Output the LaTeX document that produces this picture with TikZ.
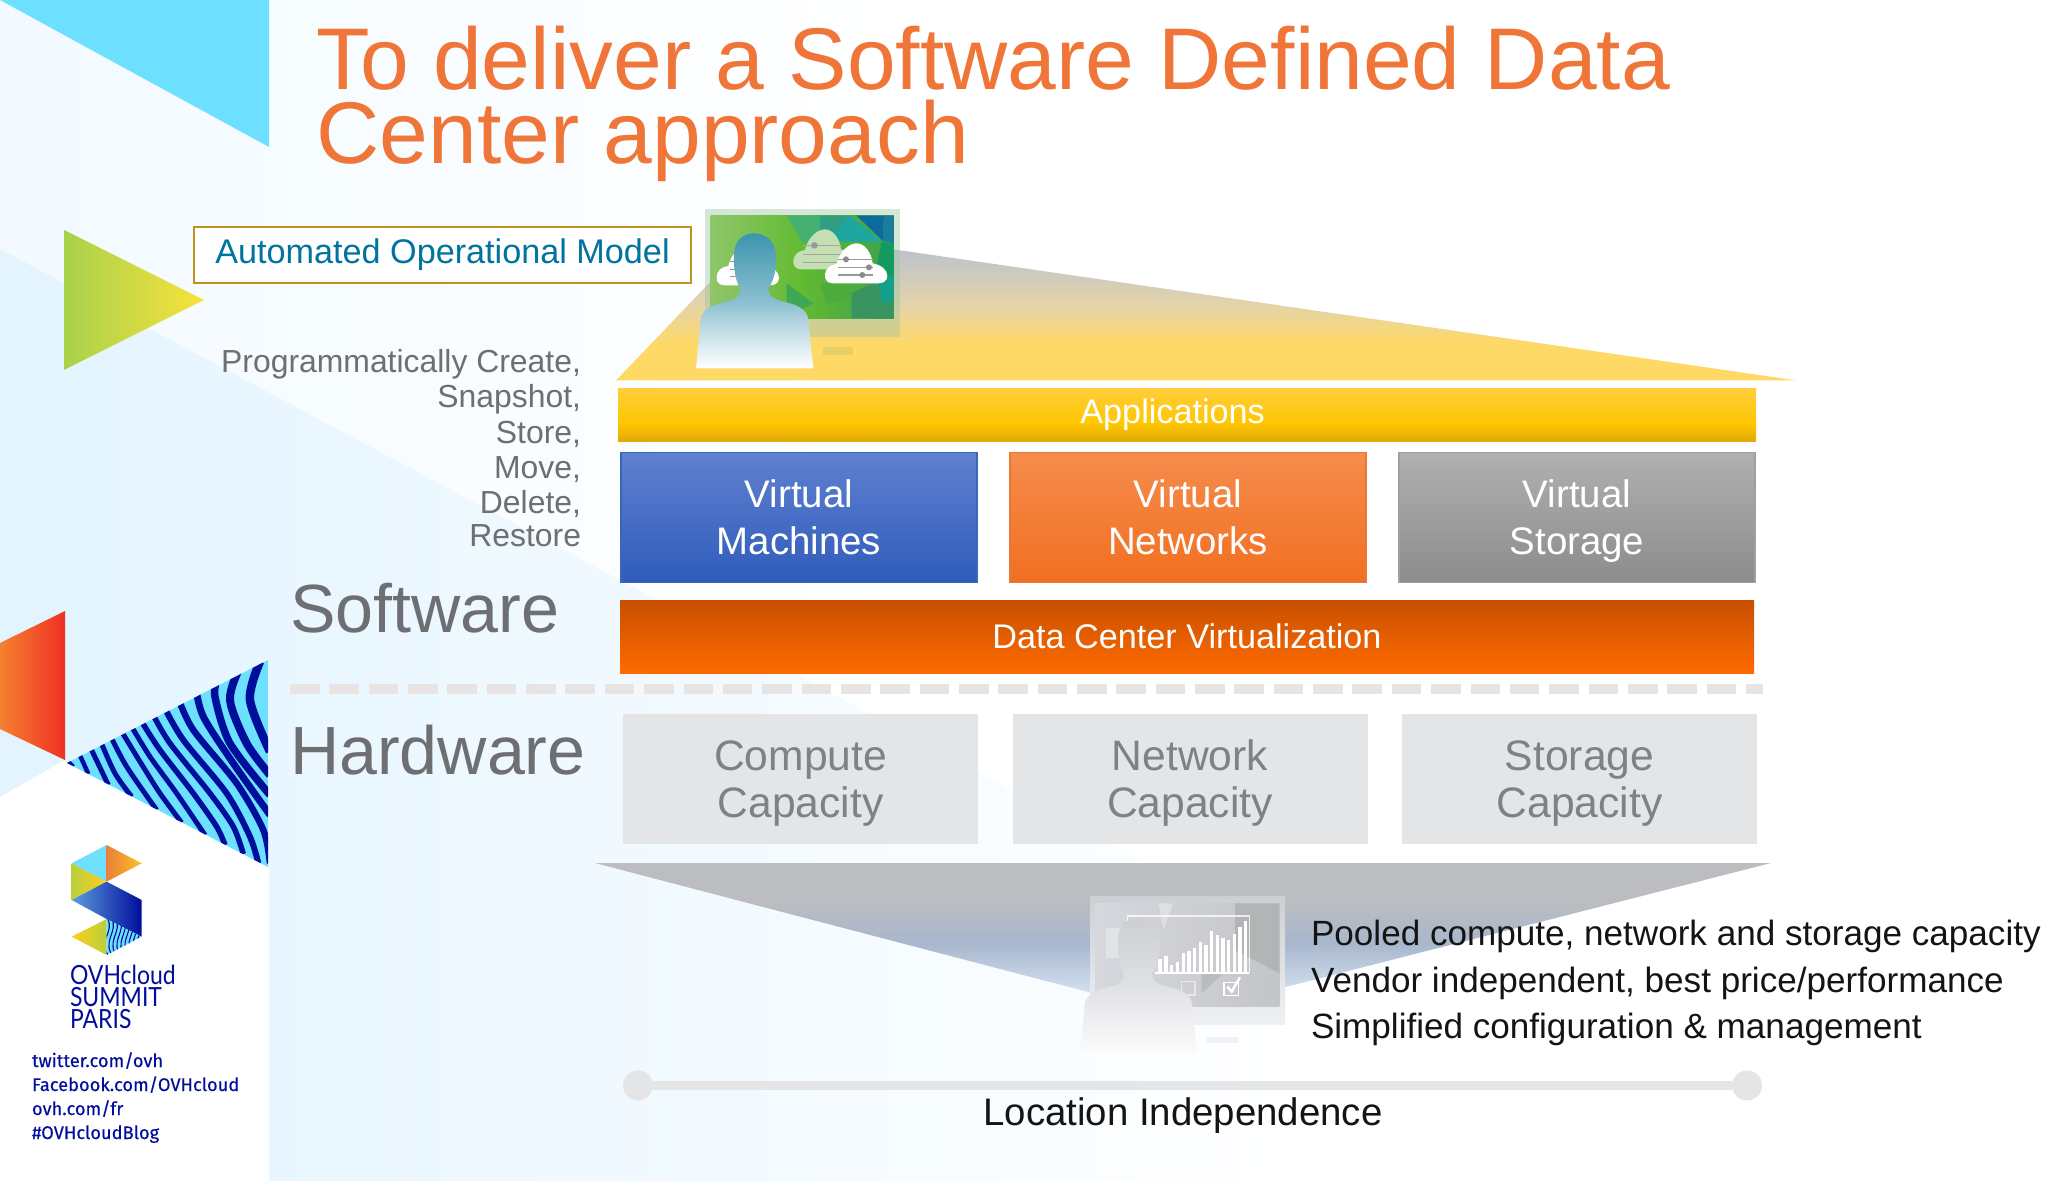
\documentclass[tikz,border=0pt]{standalone}
\usepackage{fontspec}
\setmainfont{Liberation Sans}
\newfontfamily\ovhfont{Fira Sans}[FakeBold=0.25]
\newfontfamily\ovhthin{Lato}
\usetikzlibrary{shapes.geometric}
\newcommand{\dc}[2]{\definecolor{#1}{HTML}{#2}}
\dc{cyanT}{6EE0FF}\dc{navy}{000E9C}\dc{titleC}{EF7638}\dc{grayT}{6D6F73}\dc{boxT}{808184}\dc{hwFill}{E4E5E7}\dc{paleBlue}{E3F4FF}
\dc{divC}{E8E4E4}\dc{aomB}{C09220}\dc{aomT}{00739F}
\dc{tgrA}{A8D14B}\dc{tgrB}{F8E23C}\dc{redA}{F58030}\dc{redB}{EE3124}
\dc{lgOA}{E9803A}\dc{lgOB}{FDC02A}\dc{lgGA}{B8CF3C}\dc{lgYB}{FFCE1E}\dc{lgBA}{5C9CDC}
\dc{vmT}{6080D0}\dc{vmB}{2F5CBB}\dc{vmE}{3A66B8}\dc{vnT}{F58C4C}\dc{vnB}{F26F21}\dc{vnE}{E87838}\dc{vsT}{B0B0B0}\dc{vsB}{8C8C8C}\dc{vsE}{A0A0A0}
\dc{dcT}{C85000}\dc{dcB}{FF6A00}
\dc{mFr}{9FC6A0}\dc{mSt}{B2BE6E}\dc{sA}{90C66A}\dc{sB}{62BA32}\dc{sC}{3CA050}
\dc{m1}{44B072}\dc{m2}{2F9E82}\dc{m3}{1EA6A0}\dc{m4}{0B6B9E}\dc{m5}{1A7D9C}\dc{m6}{149A60}\dc{m7}{3A9460}\dc{m8}{12A08C}\dc{m9}{3FA854}\dc{m10}{4BAC3C}\dc{cl1}{C4E0B2}
\dc{g1}{CDCFD4}\dc{g2}{F0F1F3}\dc{g3}{D6D8DE}\dc{g4}{C4C5C8}\dc{g5}{B3B4B6}\dc{g6}{BABBBE}\dc{g7}{E2E3E6}\dc{g8}{DEDFE2}
% shading colours
\dc{yA}{FFD966}\dc{yB}{E4D4A8}\dc{yC}{BEC2CE}
\dc{gA}{FFFFFF}\dc{gB}{CFDDED}\dc{gC}{A8B7CD}\dc{gD}{BCBDC0}
\dc{apA}{E0A808}\dc{apB}{FFC600}\dc{apC}{FFCD3C}
\dc{pA}{FFFFFF}\dc{pB}{CFE5EA}\dc{pC}{8ABFCF}\dc{pD}{3D95AE}
\dc{qA}{FCFCFD}\dc{qB}{E0E1E3}\dc{qC}{CDCED1}
\pgfdeclareverticalshading{yellowtri}{100bp}{color(0bp)=(yA); color(36.9bp)=(yA); color(50bp)=(yB); color(68.4bp)=(yC); color(100bp)=(yC)}
\pgfdeclareverticalshading{graytri}{100bp}{color(0bp)=(gA); color(25bp)=(gA); color(33.8bp)=(gB); color(48.4bp)=(gC); color(63bp)=(gD); color(100bp)=(gD)}
\pgfdeclareverticalshading{apps}{100bp}{color(0bp)=(apA); color(25bp)=(apA); color(42bp)=(apB); color(75bp)=(apC); color(100bp)=(apC)}
\pgfdeclareverticalshading{persC}{100bp}{color(0bp)=(pA); color(25bp)=(pA); color(36bp)=(pB); color(50bp)=(pC); color(75bp)=(pD); color(100bp)=(pD)}
\pgfdeclareverticalshading{persG}{100bp}{color(0bp)=(qA); color(25bp)=(qA); color(50bp)=(qB); color(75bp)=(qC); color(100bp)=(qC)}
\newcommand{\personpath}{(48,505) -- (62,360) .. controls (65,330) and (90,318) .. (120,310) .. controls (160,300) and (180,295) .. (180,265) .. controls (165,240) and (160,200) .. (162,160) .. controls (165,120) and (190,100) .. (222,100) .. controls (260,100) and (285,125) .. (288,165) .. controls (290,210) and (280,245) .. (265,265) .. controls (265,295) and (290,300) .. (330,310) .. controls (365,320) and (382,335) .. (385,360) -- (400,505) -- cycle}
\newcommand{\cloudfill}{(435,228) .. controls (435,205) and (450,195) .. (470,192) .. controls (480,150) and (510,130) .. (530,130) .. controls (555,130) and (575,160) .. (578,190) .. controls (605,195) and (622,210) .. (622,228) .. controls (622,242) and (610,250) .. (595,250) -- (460,250) .. controls (445,250) and (435,242) .. (435,228) -- cycle}
\tikzset{
  lbl/.style={inner sep=0pt,outer sep=0pt},
  vbox/.style={lbl,minimum width=177.8pt,minimum height=64.8pt,align=center,text=white,draw,line width=.8pt,font=\fontsize{19.2}{23.5}\selectfont},
  hbox/.style={lbl,minimum width=177.5pt,minimum height=65pt,align=center,text=boxT,fill=hwFill,font=\fontsize{21.3}{23.5}\selectfont},
  barT/.style={lbl,text=white,font=\fontsize{17.1}{20}\selectfont},
  side/.style={lbl,anchor=base east,text=grayT,font=\fontsize{15.95}{18}\selectfont},
  layer/.style={lbl,anchor=base west,text=grayT,font=\fontsize{34.1}{38}\selectfont},
  head/.style={lbl,anchor=base west,text=titleC,font=\fontsize{43.8}{50}\selectfont},
  blk/.style={lbl,anchor=base west,text=black!92,font=\fontsize{17.55}{20}\selectfont},
  soc/.style={lbl,anchor=base west,text=navy,font=\ovhfont\fontsize{9.14}{11}\selectfont},
  brand/.style={lbl,anchor=base west,text=navy,font=\ovhthin\fontsize{13.2}{13}\selectfont,transform shape,xscale=.87},
  wave/.style={navy,line width=#1*.5pt}
}
\begin{document}
\begin{tikzpicture}[x=0.5pt,y=-0.5pt]
\useasboundingbox (0,0) rectangle (2048,1181);
% background
\fill[white] (0,0) rectangle (2048,1181);
\shade[left color=paleBlue!45,right color=white] (0,0) rectangle (900,1181);
\shade[left color=paleBlue,right color=white] (0,249) -- (657,600) -- (1300,945) -- (1300,1181) -- (0,1181) -- cycle;
\fill[white] (0,797) -- (65,760) -- (269,867) -- (269,1181) -- (0,1181) -- cycle;
% decorative shapes
\fill[cyanT] (0,0) -- (269,0) -- (269,147) -- cycle;
\shade[left color=tgrA,right color=tgrB] (64,230) -- (204,300) -- (64,370) -- cycle;
\shade[left color=redA,right color=redB] (0,643) -- (65,611) -- (65,760) -- (0,729) -- cycle;
\begin{scope}
\clip (67,763) -- (268,660) -- (268,867) -- cycle;
\fill[cyanT] (67,763) -- (268,660) -- (268,867) -- cycle;
\begin{scope}[shift={(60,650)},xscale=0.3333,yscale=0.3333]
\draw[wave=4] plot[smooth] coordinates {(15,325) (40,350)};
\draw[wave=4.5] plot[smooth] coordinates {(55,305) (85,372)};
\draw[wave=5] plot[smooth] coordinates {(90,290) (145,405)};
\draw[wave=5] plot[smooth] coordinates {(120,270) (165,370) (215,440)};
\draw[wave=5] plot[smooth] coordinates {(150,255) (200,350) (290,480)};
\draw[wave=5] plot[smooth] coordinates {(182,240) (240,335) (300,430) (365,518)};
\draw[wave=5] plot[smooth] coordinates {(212,225) (270,320) (350,430) (435,555)};
\draw[wave=5.5] plot[smooth] coordinates {(242,210) (300,300) (400,430) (470,530) (495,585)};
\draw[wave=5.5] plot[smooth] coordinates {(277,190) (330,280) (450,430) (520,530) (550,612)};
\draw[wave=6] plot[smooth] coordinates {(312,170) (370,270) (500,430) (570,560) (595,640)};
\draw[wave=6.5] plot[smooth] coordinates {(355,145) (400,240) (530,400) (610,540) (630,640)};
\draw[wave=7] plot[smooth] coordinates {(408,115) (430,200) (520,340) (630,495)};
\draw[wave=7.5] plot[smooth] coordinates {(472,85) (465,140) (510,280) (630,435)};
\draw[wave=8] plot[smooth] coordinates {(538,55) (510,150) (560,280) (630,375)};
\draw[wave=8.5] plot[smooth] coordinates {(600,35) (570,150) (630,305)};
\end{scope}
\end{scope}
% logo
\begin{scope}[shift={(60,835)},xscale=0.3333,yscale=0.3333]
\fill[cyanT] (35,85) -- (140,30) -- (140,140) -- cycle;
\shade[left color=lgOA,right color=lgOB] (140,30) -- (245,85) -- (140,140) -- cycle;
\shade[left color=lgGA,right color=lgYB] (35,85) -- (140,140) -- (35,195) -- cycle;
\shade[left color=lgBA,right color=navy] (35,195) -- (140,140) -- (245,195) -- (245,305) -- (140,252) -- cycle;
\shade[left color=lgYB,right color=lgGA] (35,305) -- (140,252) -- (140,360) -- cycle;
\begin{scope}
\clip (140,252) -- (245,305) -- (140,360) -- cycle;
\fill[cyanT] (140,252) -- (245,305) -- (140,360) -- cycle;
\foreach \xa in {130,142,...,250}{
 \draw[navy,line width=.55pt] (\xa,250) .. controls (\xa+25,290) and (\xa-35,320) .. (\xa+10,370);
}
\end{scope}
\end{scope}
% brand text
\node[brand] (b1) at (70,984.5) {OVHcloud};
\node[brand] (b2) at (70,1006) {SUMMIT};
\node[brand] (b3) at (70,1028) {PARIS};
\node[soc] (s1) at (32,1067) {twitter.com/ovh};
\node[soc] (s2) at (32,1091) {Facebook.com/OVHcloud};
\node[soc] (s3) at (32,1115) {ovh.com/fr};
\node[soc] (s4) at (32,1139) {\#OVHcloudBlog};
% title
\node[head] (t1) at (316.5,90) {To deliver a Software Defined Data};
\node[head] (t2) at (316.5,164) {Center approach};
% automated model
\node[lbl,draw=aomB,line width=1pt,fill=white,minimum width=248.5pt,minimum height=28pt,text=aomT,font=\fontsize{17.1}{20}\selectfont] (aom) at (442.5,255) {\raisebox{-1pt}{Automated Operational Model}};
% yellow triangle
\shade[shading=yellowtri] (616,380.5) -- (760,230) -- (1797,380.5) -- cycle;
% monitor
\fill[fill=mFr,fill opacity=.42] (705,209) rectangle (900,337);
\begin{scope}[shift={(680,200)},xscale=0.3333,yscale=0.3333]
\fill[fill=mSt,fill opacity=.3] (430,440) rectangle (520,465);
\shade[left color=sA,right color=sC,middle color=sB] (92,47) rectangle (642,355);
\fill[m1] (320,47) -- (420,47) -- (420,125) -- (370,130) -- cycle;
\fill[m2] (420,47) -- (510,47) -- (440,125) -- (420,125) -- cycle;
\fill[m3] (510,47) -- (605,125) -- (510,125) -- (440,125) -- cycle;
\fill[m4] (530,47) -- (612,47) -- (608,122) -- cycle;
\fill[m5] (612,47) -- (642,47) -- (642,130) -- (608,122) -- cycle;
\fill[m6] (605,125) -- (642,130) -- (642,240) -- (590,200) -- cycle;
\fill[m7] (515,280) -- (580,250) -- (642,290) -- (642,355) -- (515,355) -- cycle;
\fill[m8] (590,240) -- (642,225) -- (642,300) -- (610,315) -- cycle;
\fill[m9] (320,250) -- (400,310) -- (320,350) -- cycle;
\fill[m10] (420,250) -- (510,250) -- (515,300) -- (440,310) -- cycle;
% clouds
\begin{scope}[shift={(-95,-42)}]
\fill[cl1] \cloudfill;
\draw[black!35,line width=.5pt] (465,178) -- (580,178) (465,205) -- (580,205) (465,230) -- (580,230);
\fill[black!40] (498,178) circle [radius=10];
\end{scope}
\begin{scope}[shift={(-325,6)}]
\fill[white] \cloudfill;
\draw[black!40,line width=.5pt] (475,178) -- (520,178) (475,202) -- (520,202) (475,225) -- (520,225);
\end{scope}
\fill[white] \cloudfill;
\draw[black!40,line width=.7pt] (475,178) -- (580,178) (475,202) -- (580,202) (475,225) -- (580,225);
\fill[black!45] (498,178) circle [radius=9] (567,202) circle [radius=9] (547,225) circle [radius=9];
\shade[shading=persC] \personpath;
\end{scope}
% applications bar
\node[barT,shade,shading=apps,minimum width=569pt,minimum height=26.7pt] (apps) at (1187,415) {\hspace*{-14.4pt}Applications};
% virtual boxes
\node[vbox,draw=vmE,top color=vmT,bottom color=vmB] (vm) at (799,517.5) {Virtual\\Machines};
\node[vbox,draw=vnE,top color=vnT,bottom color=vnB] (vn) at (1188,517.5) {Virtual\\Networks};
\node[vbox,draw=vsE,top color=vsT,bottom color=vsB] (vs) at (1577,517.5) {Virtual\\\smash{Storage}};
% data center virtualization
\node[barT,top color=dcT,bottom color=dcB,minimum width=567pt,minimum height=36.5pt] (dcv) at (1187,636.5) {Data Center Virtualization};
% layer labels
\node[layer] (sw) at (290,632) {Software};
\node[layer] (hw) at (290,774) {Hardware};
% dashed divider
\coordinate (d1) at (290,689);
\coordinate (d2) at (1763,689);
\draw[divC,line width=5pt,dash pattern=on 14.8pt off 4.875pt] (d1) -- (d2);
% hardware boxes
\node[hbox] (cc) at (800.5,779) {Compute\\\smash{Capacity}};
\node[hbox] (nc) at (1190,779) {Network\\\smash{Capacity}};
\node[hbox] (sc) at (1579.5,779) {Storage\\\smash{Capacity}};
% side text
\node[side] (p1) at (581,373) {Programmatically Create,};
\node[side] (p2) at (581,408) {Snapshot,};
\node[side] (p3) at (581,444) {Store,};
\node[side] (p4) at (581,479) {Move,};
\node[side] (p5) at (581,513) {Delete,};
\node[side] (p6) at (581,546) {Restore};
% gray funnel
\shade[shading=graytri] (595,863) -- (1771,863) -- (1176,1015) -- cycle;
% gray monitor
\begin{scope}[shift={(1080,890)},xscale=0.3333,yscale=0.3333]
\shade[top color=g1,bottom color=g2] (30,20) rectangle (615,405);
\fill[g2] (380,440) rectangle (475,460);
\shade[left color=g3,right color=g4] (45,40) rectangle (598,350);
\fill[g5] (465,40) -- (598,40) -- (598,250) -- (465,180) -- cycle;
\fill[g6] (365,250) -- (430,250) -- (365,310) -- cycle;
\fill[g7] (78,115) rectangle (130,205);
\fill[g8] (235,40) -- (280,40) -- (250,120) -- cycle;
\draw[white,opacity=.75,line width=.7pt] (143,130) -- (143,78) -- (508,78) -- (508,248);
\draw[white,line width=.9pt] (225,248) -- (508,248);
\foreach \bx/\by in {240/208,258/198,275/225,293/215,310/188,327/182,344/175,361/155,378/165,395/122,412/135,429/145,446/150,463/132,480/110,497/92}{
 \fill[white] (\bx-5,\by) rectangle (\bx+5,248);
}
\draw[white,opacity=.55,line width=.7pt] (305,275) rectangle (345,315);
\draw[white,line width=.8pt] (432,277) rectangle (475,316);
\draw[white,line width=1.2pt] (442,290) -- (455,305) -- (480,262);
\end{scope}
\begin{scope}[shift={(1064,885)},xscale=0.3333,yscale=0.3333]
\shade[shading=persG] \personpath;
\end{scope}
% pooled text
\node[blk] (l1) at (1311,945) {Pooled compute, network and storage capacity};
\node[blk] (l2) at (1311,992) {Vendor independent, best price/performance};
\node[blk] (l3) at (1311,1038) {Simplified configuration \& management};
% location slider
\node[circle,fill=hwFill,minimum size=15pt,inner sep=0pt] (la) at (638,1085.5) {};
\node[circle,fill=hwFill,minimum size=15pt,inner sep=0pt] (lb) at (1747,1085.5) {};
\draw[hwFill,line width=4.7pt] (la) -- (lb);
\node[lbl,anchor=base,font=\fontsize{19.2}{22}\selectfont,text=black!92] (li) at (1183,1125) {Location Independence};
\end{tikzpicture}
\end{document}
